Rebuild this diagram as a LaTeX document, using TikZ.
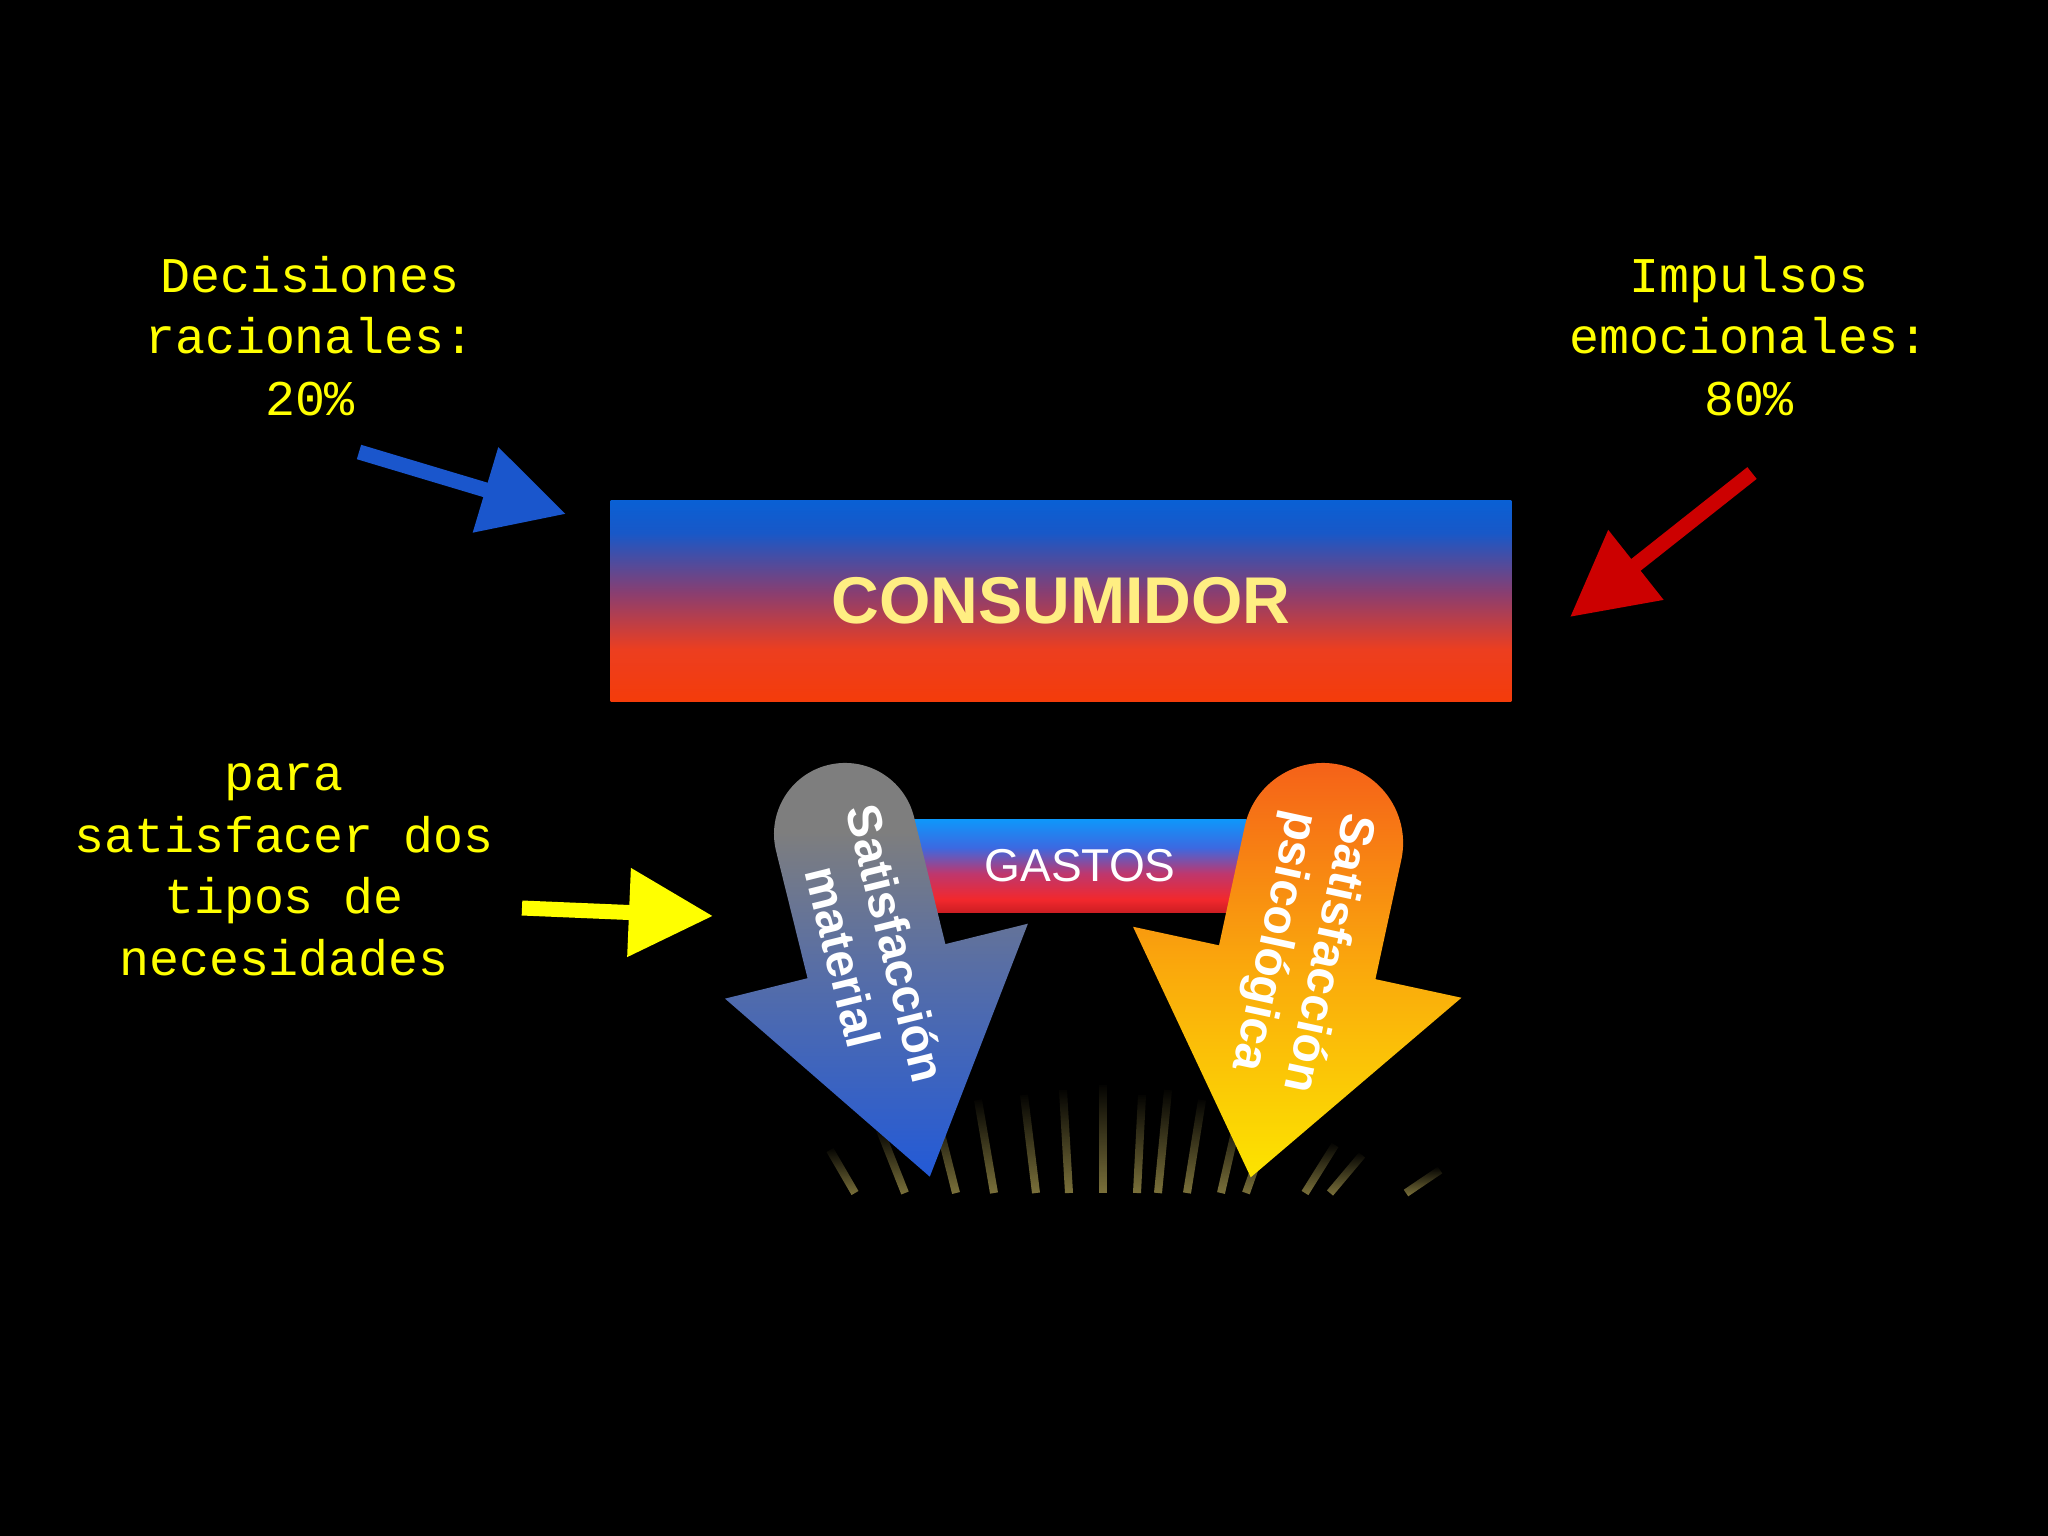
\documentclass[tikz,border=0pt]{standalone}
\usepackage{fontspec}
\setmainfont{Liberation Sans}
\newfontfamily\maquina{Liberation Mono}
\usetikzlibrary{arrows.meta,fadings}

\definecolor{amarillo}{RGB}{255,255,0}
\definecolor{azul}{RGB}{26,86,204}
\definecolor{rojo}{RGB}{204,0,0}
\definecolor{crema}{RGB}{255,238,130}
\definecolor{rayo}{RGB}{150,138,72}

\definecolor{cRojo}{RGB}{244,60,10}
\definecolor{cRojoB}{RGB}{236,62,32}
\definecolor{cMalva}{RGB}{138,62,112}
\definecolor{cAzul}{RGB}{24,88,200}
\definecolor{cAzulTop}{RGB}{10,96,212}
\pgfdeclareverticalshading{consumidorshade}{100bp}{color(0bp)=(cRojo); color(25bp)=(cRojo); color(38bp)=(cRojoB); color(52bp)=(cMalva); color(67bp)=(cAzul); color(75bp)=(cAzulTop); color(100bp)=(cAzulTop)}

\definecolor{gRojoB}{RGB}{205,30,35}
\definecolor{gRojo}{RGB}{242,40,45}
\definecolor{gMagenta}{RGB}{190,55,110}
\definecolor{gAzul}{RGB}{60,105,225}
\definecolor{gCian}{RGB}{15,150,250}
\pgfdeclareverticalshading{gastosshade}{100bp}{color(0bp)=(gRojoB); color(25bp)=(gRojoB); color(32bp)=(gRojo); color(46bp)=(gMagenta); color(60bp)=(gAzul); color(75bp)=(gCian); color(100bp)=(gCian)}

\definecolor{mAzul}{RGB}{35,90,215}
\definecolor{mPizarra}{RGB}{88,110,165}
\definecolor{mGris}{RGB}{126,126,126}
\pgfdeclareverticalshading{matshade}{100bp}{color(0bp)=(mAzul); color(25bp)=(mAzul); color(50bp)=(mPizarra); color(66bp)=(mGris); color(100bp)=(mGris)}

\definecolor{pAmarillo}{RGB}{252,228,0}
\definecolor{pNaranja}{RGB}{250,168,12}
\definecolor{pRojizo}{RGB}{245,95,25}
\pgfdeclareverticalshading{psishade}{100bp}{color(0bp)=(pAmarillo); color(25bp)=(pAmarillo); color(50bp)=(pNaranja); color(75bp)=(pRojizo); color(100bp)=(pRojizo)}

\begin{document}
\begin{tikzpicture}[x=0.01cm, y=-0.01cm,
    etiqueta/.style={text=amarillo, align=center, inner sep=0pt,
        font=\maquina\fontsize{14.2}{17.5}\selectfont},
    flecha/.style={line width=0.15cm, -{Triangle[length=0.84cm, width=0.85cm]}},
    vertical/.style={text=white, align=center, inner sep=0pt,
        font=\bfseries\fontsize{13.7}{15.6}\selectfont},
    ray/.style={draw=rayo, line width=0.08cm, opacity=0.85, path fading=north}]

    \fill[black] (0,0) rectangle (2048,1536);

    \node[etiqueta] (racional) at (310,336) {Decisiones\\racionales:\\20\%};
    \node[etiqueta] (emocional) at (1749,336) {Impulsos\\emocionales:\\80\%};
    \node[etiqueta] (necesidades) at (284,870) {para\\satisfacer dos\\tipos de\\necesidades};

    \node[shading=consumidorshade, minimum width=9cm, minimum height=2cm,
        text=crema, font=\bfseries\fontsize{18.8}{22}\selectfont]
        (consumidor) at (1061,601) {CONSUMIDOR};

    \coordinate (azulIni) at (359,452);
    \coordinate (azulFin) at (566,514);
    \coordinate (rojoIni) at (1752,473);
    \coordinate (rojoFin) at (1570,617);
    \coordinate (amarilloIni) at (522,908);
    \coordinate (amarilloFin) at (713,916);

    \draw[flecha, azul] (azulIni) -- (azulFin);
    \draw[flecha, rojo] (rojoIni) -- (rojoFin);
    \draw[flecha, amarillo] (amarilloIni) -- (amarilloFin);

    \foreach \bx/\tx/\ty in {855/830/1150, 905/880/1130, 956/935/1110, 994/978/1100,
        1036/1024/1095, 1069/1063/1090, 1103/1103/1085, 1137/1142/1095, 1158/1168/1090,
        1187/1202/1100, 1221/1240/1110, 1246/1270/1125, 1305/1335/1145, 1330/1362/1155,
        1406/1440/1170}
        \draw[ray] (\bx,1193) -- (\tx,\ty);

    \node[shading=gastosshade, minimum width=3.33cm, minimum height=0.92cm,
        text=white, font=\fontsize{13.1}{15}\selectfont]
        (gastos) at (1080,866) {GASTOS};

    \begin{scope}[shift={(845,834)}, rotate=13.9]
        \shade[shading=matshade] (-71,0) arc[start angle=180, end angle=0, radius=0.71cm]
            -- (71,131) -- (156,131) -- (0,353) -- (-156,131) -- (-71,131) -- cycle;
    \end{scope}

    \begin{scope}[shift={(1323,843)}, rotate=-12.2]
        \shade[shading=psishade] (-80,0) arc[start angle=180, end angle=0, radius=0.8cm]
            -- (80,122) -- (168,122) -- (0,342) -- (-168,122) -- (-80,122) -- cycle;
    \end{scope}

    \node[vertical, rotate=-76.1] (material) at (870,950) {Satisfacción\\material};
    \node[vertical, rotate=-102.2] (psicologica) at (1300,947) {Satisfacción\\psicológica};

\end{tikzpicture}
\end{document}
